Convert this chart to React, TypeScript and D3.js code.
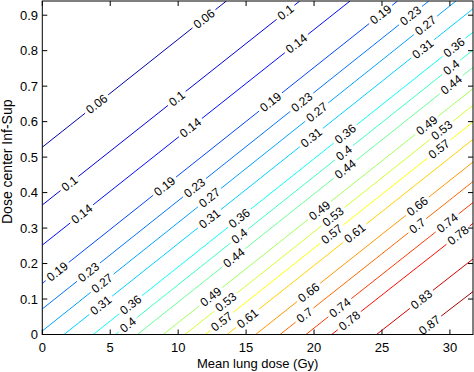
import React from "react";
import * as d3 from "d3";

// contour levels (NTCP) and where each straight iso-line enters / leaves the plot
const levels = [0.06, 0.1, 0.14, 0.19, 0.23, 0.27, 0.31, 0.36, 0.4, 0.44, 0.49, 0.53, 0.57, 0.61, 0.66, 0.7, 0.74, 0.78, 0.83, 0.87];

const lineStart: number[][] = [
  [0, 0.528], [0, 0.365], [0, 0.252], [0, 0.144], [0, 0.072], [0, 0.01],
  [1.6, 0], [3.75, 0], [5.4, 0], [7.0, 0], [8.9, 0], [10.5, 0], [12.0, 0],
  [13.6, 0], [15.7, 0], [17.5, 0], [19.4, 0], [21.3, 0], [24.6, 0], [27.6, 0],
];

const lineEnd: number[][] = [
  [13.55, 0.94], [18.95, 0.94], [22.65, 0.94], [26.15, 0.94], [28.45, 0.94], [30.45, 0.94],
  [31.7, 0.918], [31.7, 0.852], [31.7, 0.802], [31.7, 0.753], [31.7, 0.693], [31.7, 0.646],
  [31.7, 0.599], [31.7, 0.55], [31.7, 0.486], [31.7, 0.431], [31.7, 0.372], [31.7, 0.313],
  [31.7, 0.213], [31.7, 0.121],
];

// MLD positions of the inline labels on each line
const labelAt: number[][] = [
  [4.0, 11.9], [2.0, 9.9, 17.9], [2.9, 10.9, 18.7], [1.1, 9.0, 16.8, 24.9],
  [3.4, 11.2, 19.1, 27.1], [4.4, 12.3, 20.2, 28.2], [4.3, 12.3, 19.8, 28.0],
  [6.5, 14.5, 22.3, 30.3], [6.3, 14.5, 22.2, 30.1], [14.1, 22.3, 30.1],
  [12.4, 20.4, 28.3], [13.5, 21.4, 29.4], [13.2, 21.3, 29.2], [15.1, 23.0],
  [19.6, 27.6], [19.3, 27.6], [21.9, 29.8], [22.6, 30.6], [27.9], [28.5],
];

const xTicks = [0, 5, 10, 15, 20, 25, 30];
const yTicks = [0, 0.1, 0.2, 0.3, 0.4, 0.5, 0.6, 0.7, 0.8, 0.9];

const left = 42.3;
const right = 473;
const top = 1;
const bottom = 334.5;
const font = "'Liberation Sans', Arial, Helvetica, sans-serif";

const jet = (t: number) => {
  const c = (v: number) => Math.max(0, Math.min(1, v)) * 255;
  return d3.rgb(c(1.5 - Math.abs(4 * t - 3)), c(1.5 - Math.abs(4 * t - 2)), c(1.5 - Math.abs(4 * t - 1))).formatHex();
};

const App = () => {
  const x = d3.scaleLinear().domain([0, 31.7]).range([left, right]);
  const y = d3.scaleLinear().domain([0, 0.94]).range([bottom, top]);
  const t = d3.scaleLinear().domain([0.02, 0.9]).range([0, 1]);

  const lines = levels.map((lev, i) => {
    const x0 = x(lineStart[i][0]);
    const y0 = y(lineStart[i][1]);
    const x1 = x(lineEnd[i][0]);
    const y1 = y(lineEnd[i][1]);
    const len = Math.hypot(x1 - x0, y1 - y0);
    const ux = (x1 - x0) / len;
    const uy = (y1 - y0) / len;
    const angle = (Math.atan2(y1 - y0, x1 - x0) * 180) / Math.PI;
    const text = String(lev);
    const tw = text.replace(".", "").length * 6.67 + 3.33;
    const gap = tw / 2 + 3;
    const labels = labelAt[i].map((lx) => {
      const s = ((x(lx) - x0) / (x1 - x0)) * len;
      return { s, cx: x0 + ux * s, cy: y0 + uy * s };
    });
    // split the line around its labels
    const segs: number[][] = [];
    let cur = 0;
    labels
      .map((l) => l.s)
      .sort((a, b) => a - b)
      .forEach((s) => {
        if (s - gap > cur) segs.push([cur, s - gap]);
        cur = s + gap;
      });
    if (cur < len) segs.push([cur, len]);
    const path = d3.path();
    segs.forEach(([a, b]) => {
      path.moveTo(x0 + ux * a, y0 + uy * a);
      path.lineTo(x0 + ux * b, y0 + uy * b);
    });
    return { lev, text, color: jet(t(lev)), d: path.toString(), labels, angle };
  });

  return (
    <div style={{ position: "absolute", left: 0, top: 0 }}>
      <svg width={474} height={372} style={{ display: "block", background: "#fff" }}>
        <defs>
          <clipPath id="plotClip">
            <rect x={left} y={top} width={right - left} height={bottom - top} />
          </clipPath>
        </defs>
        <rect x={0} y={0} width={474} height={372} fill="#fff" />
        <g clipPath="url(#plotClip)">
          {lines.map((l) => (
            <path key={l.lev} d={l.d} fill="none" stroke={l.color} strokeWidth={1} />
          ))}
          {lines.map((l) =>
            l.labels.map((lb, j) => (
              <text
                key={`${l.lev}-${j}`}
                transform={`translate(${lb.cx},${lb.cy}) rotate(${l.angle})`}
                textAnchor="middle"
                dy="0.35em"
                fontFamily={font}
                fontSize={12}
                fill="#000"
              >
                {l.text}
              </text>
            ))
          )}
        </g>
        <rect x={left} y={top} width={right - left} height={bottom - top} fill="none" stroke="#000" strokeWidth={1} />
        {xTicks.map((v) => (
          <g key={`x${v}`}>
            <line x1={x(v)} x2={x(v)} y1={bottom} y2={bottom - 5} stroke="#000" />
            <line x1={x(v)} x2={x(v)} y1={top} y2={top + 5} stroke="#000" />
            <text x={x(v)} y={351.5} textAnchor="middle" fontFamily={font} fontSize={13} fill="#000">
              {v}
            </text>
          </g>
        ))}
        {yTicks.map((v) => (
          <g key={`y${v}`}>
            <line x1={left} x2={left + 5} y1={y(v)} y2={y(v)} stroke="#000" />
            <line x1={right} x2={right - 5} y1={y(v)} y2={y(v)} stroke="#000" />
            <text x={38} y={y(v)} dy="0.35em" textAnchor="end" fontFamily={font} fontSize={13} fill="#000">
              {v}
            </text>
          </g>
        ))}
        <text x={(left + right) / 2} y={368} textAnchor="middle" fontFamily={font} fontSize={13} fill="#000">
          Mean lung dose (Gy)
        </text>
        <text
          transform={`translate(11.5,${(top + bottom) / 2 - 6}) rotate(-90)`}
          textAnchor="middle"
          fontFamily={font}
          fontSize={14}
          fill="#000"
        >
          Dose center Inf-Sup
        </text>
      </svg>
    </div>
  );
};

export default App;
